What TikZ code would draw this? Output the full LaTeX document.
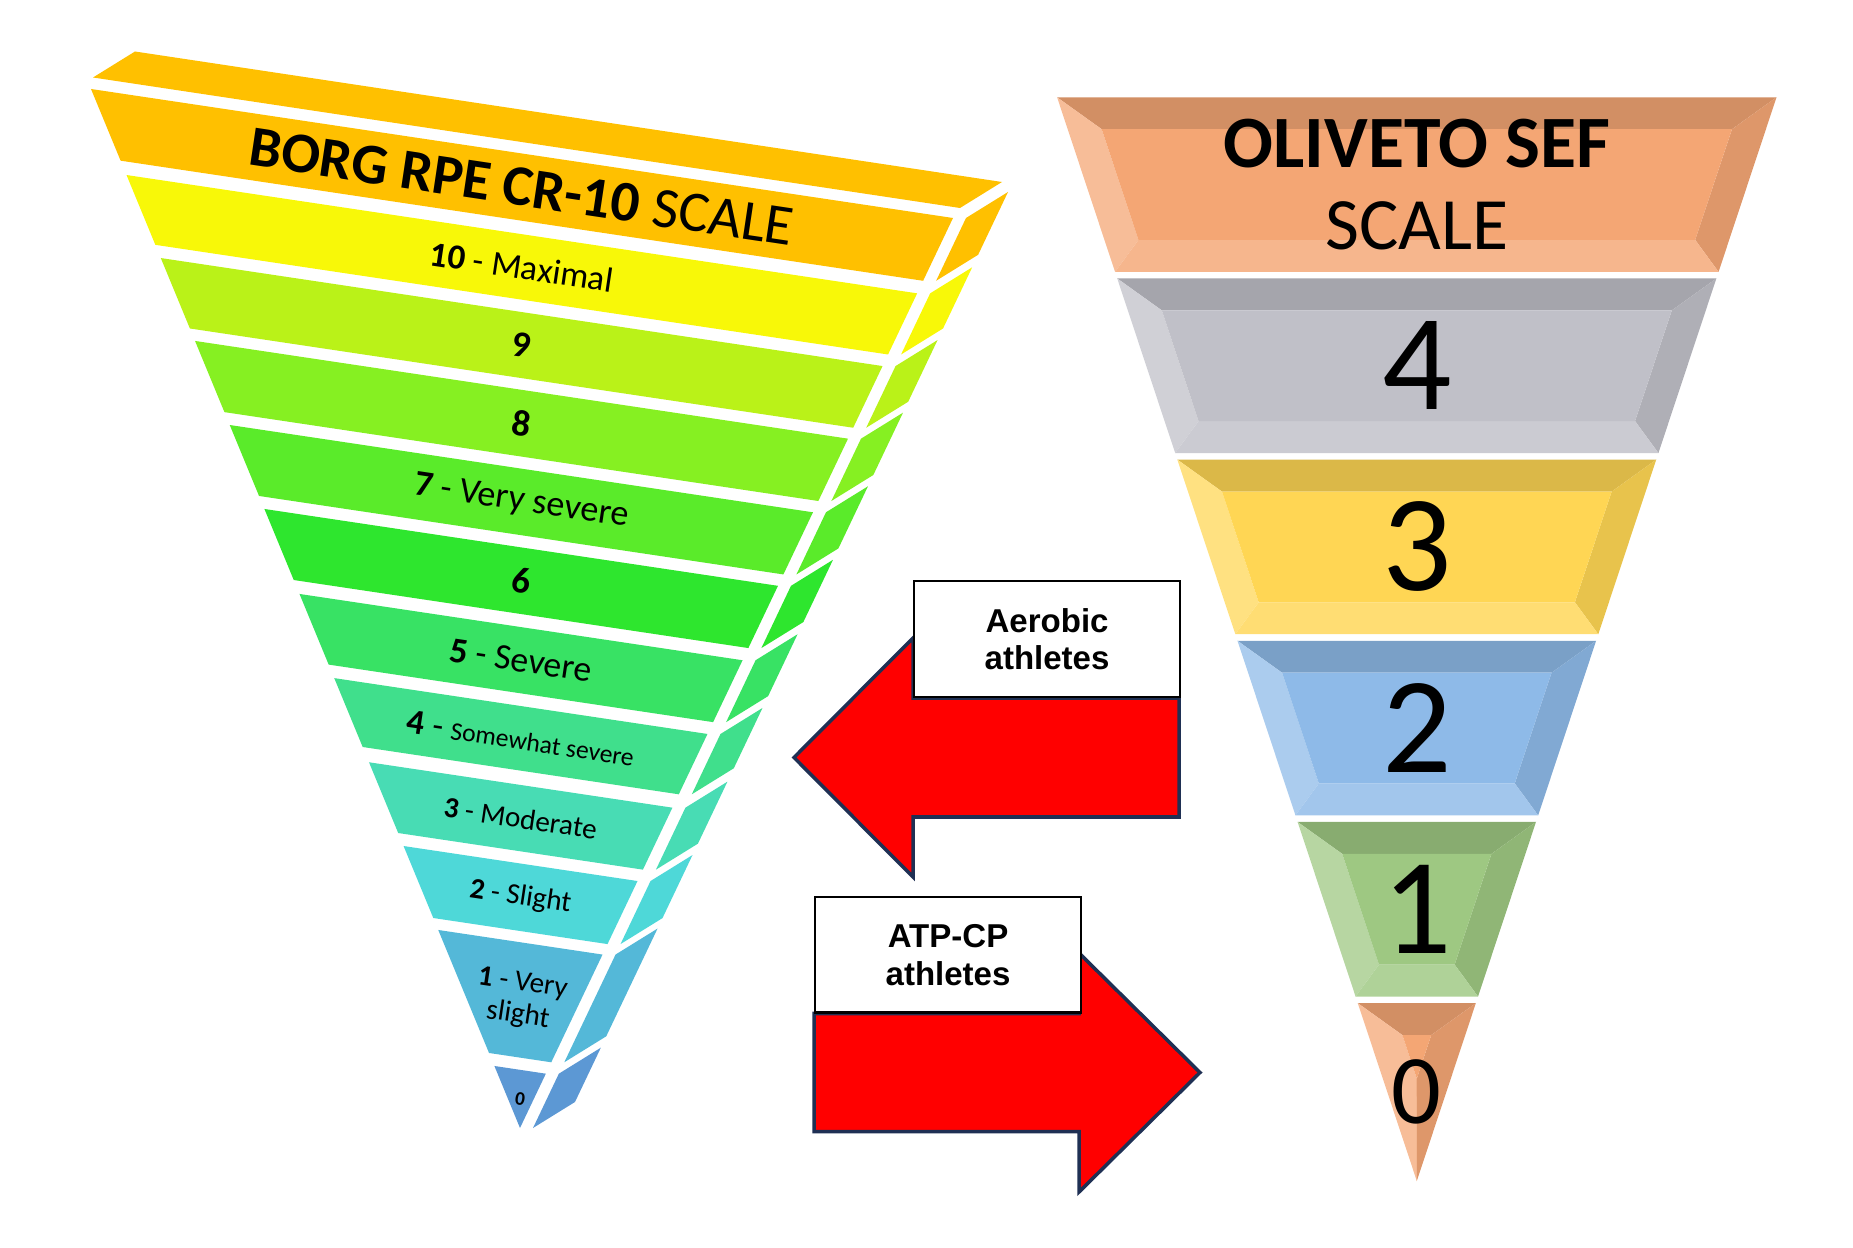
\documentclass[tikz,border=0pt]{standalone}
\usepackage{fontspec}
\setmainfont{Carlito}
\newfontfamily\arialfont{Liberation Sans}
\usetikzlibrary{calc,positioning}
\definecolor{borgA}{RGB}{255,192,0}
\definecolor{borgB}{RGB}{248,248,8}
\definecolor{borgC}{RGB}{186,242,24}
\definecolor{borgD}{RGB}{134,240,34}
\definecolor{borgE}{RGB}{90,235,42}
\definecolor{borgF}{RGB}{46,230,46}
\definecolor{borgG}{RGB}{56,226,100}
\definecolor{borgH}{RGB}{64,223,140}
\definecolor{borgI}{RGB}{72,220,180}
\definecolor{borgJ}{RGB}{78,216,216}
\definecolor{borgK}{RGB}{84,184,216}
\definecolor{borgL}{RGB}{92,152,212}
\definecolor{sefO}{RGB}{244,166,116}
\definecolor{sefG}{RGB}{192,192,200}
\definecolor{sefY}{RGB}{255,214,84}
\definecolor{sefB}{RGB}{142,186,232}
\definecolor{sefN}{RGB}{158,200,130}
\definecolor{navyedge}{RGB}{31,48,84}

\begin{document}
\begin{tikzpicture}[lvl/.style={rotate=-8.5,align=center,inner sep=0pt},sefnum/.style={align=center,inner sep=0pt},redarrow/.style={fill=red,draw=navyedge,line width=1pt,line join=miter},athbox/.style={draw=black,line width=0.6pt,fill=white,minimum width=2.66cm,minimum height=1.155cm,align=center,inner sep=0pt,font=\arialfont\bfseries\fontsize{9.4}{10.8}\selectfont}]
\useasboundingbox (0,0) rectangle (18.53,-12.48);
% Borg funnel
\coordinate (A) at (0.91,-0.89);\coordinate (C) at (9.53,-2.18);\coordinate (T) at (5.20,-11.28);\coordinate (g) at (0.13,0);\coordinate (d) at (0.42,0.26);
\fill[borgA] (0.93,-0.775) -- (9.60,-2.08) -- ++(d) -- (1.35,-0.515) -- cycle;
\foreach \ta/\tb/\col/\fs/\txt [count=\i] in {0/0.069/borgA/16.3/{\bfseries BORG RPE CR-10 \mdseries SCALE},0.0828/0.150/borgB/10/{\textbf{10} - Maximal},0.1627/0.2305/borgC/10.5/{\textbf{9}},0.2425/0.311/borgD/10.5/{\textbf{8}},0.3234/0.3917/borgE/10.3/{\textbf{7} - Very severe},0.4042/0.4726/borgF/10.5/{\textbf{6}},0.486/0.554/borgG/10.2/{\textbf{5} - Severe},0.567/0.6333/borgH/10/{\textbf{4} - {\fontsize{7.3}{8}\selectfont Somewhat severe}},0.648/0.7161/borgI/8.3/{\textbf{3} - Moderate},0.7286/0.7979/borgJ/8.3/{\textbf{2} - Slight},0.8094/0.9278/borgK/8.3/{\textbf{1} - Very\\slight},0.9403/1/borgL/5.5/{\textbf{0}}}{
\pgfmathsetmacro\tm{(\ta+\tb)/2}\pgfmathsetmacro\bs{1.12*\fs}
\fill[\col] ($(C)!\ta!(T)+(g)$) -- ++(d) -- ($(C)!\tb!(T)+(g)+(d)$) -- ($(C)!\tb!(T)+(g)$) -- cycle;
\fill[\col] ($(A)!\ta!(T)$) -- ($(C)!\ta!(T)$) -- ($(C)!\tb!(T)$) -- ($(A)!\tb!(T)$) -- cycle;
\path ($(A)!\tm!(T)$) coordinate (ml) ($(C)!\tm!(T)$) coordinate (mr);
\node[lvl,font=\fontsize{\fs}{\bs}\selectfont] (borg\i) at ($(ml)!0.5!(mr)$) {\txt};
}
% Oliveto funnel
\coordinate (P) at (10.56,-0.94);\coordinate (Q) at (17.776,-0.94);\coordinate (V) at (14.168,-11.81);
\foreach \j/\col/\fs/\txt in {0/sefO/21/{\textbf{OLIVETO SEF}\\SCALE},1/sefG/39/4,2/sefY/39/3,3/sefB/39/2,4/sefN/39/1,5/sefO/28/0}{
\pgfmathsetmacro\sa{\j/6+0.003}\pgfmathsetmacro\sb{(\j+1)/6-0.003*(\j<5)}\pgfmathsetmacro\sc{\sa+0.0294}\pgfmathsetmacro\sd{\sb-0.0294-0.0646*(\j==5)}\pgfmathsetmacro\bs{1.12*\fs}
\path ($(P)!\sa!(V)$) coordinate (o1) ($(Q)!\sa!(V)$) coordinate (o2) ($(Q)!\sb!(V)$) coordinate (o3) ($(P)!\sb!(V)$) coordinate (o4) ($(P)!\sc!(V)+(0.34,0)$) coordinate (i1) ($(Q)!\sc!(V)-(0.34,0)$) coordinate (i2) ($(Q)!\sd!(V)-(0.34,0)$) coordinate (i3) ($(P)!\sd!(V)+(0.34,0)$) coordinate (i4);
\fill[\col!86!black] (o1) -- (o2) -- (i2) -- (i1) -- cycle;\fill[\col!74!white] (o1) -- (i1) -- (i4) -- (o4) -- cycle;
\fill[\col!91!black] (o2) -- (i2) -- (i3) -- (o3) -- cycle;\fill[\col!82!white] (o4) -- (i4) -- (i3) -- (o3) -- cycle;
\fill[\col] (i1) -- (i2) -- (i3) -- (i4) -- cycle;
\path ($(o1)!0.5!(o2)$) coordinate (c1) ($(o4)!0.5!(o3)$) coordinate (c2);
\node[sefnum,font=\fontsize{\fs}{\bs}\selectfont] (sef\j) at ($(c1)!0.5!(c2)$) {\txt};
}
% arrows
\draw[redarrow] (9.13,-6.98) -- (11.79,-6.98) -- (11.79,-8.17) -- (9.13,-8.17) -- (9.13,-8.77) -- (7.94,-7.575) -- (9.13,-6.38) -- cycle;
\draw[redarrow] (8.14,-10.135) -- (10.79,-10.135) -- (10.79,-9.53) -- (12.0,-10.725) -- (10.79,-11.92) -- (10.79,-11.316) -- (8.14,-11.316) -- cycle;
\node[athbox,anchor=south west] (aerobox) at (9.13,-6.98) {Aerobic\\athletes};
\node[athbox,anchor=south west] (atpbox) at (8.14,-10.135) {ATP-CP\\athletes};
\end{tikzpicture}
\end{document}
